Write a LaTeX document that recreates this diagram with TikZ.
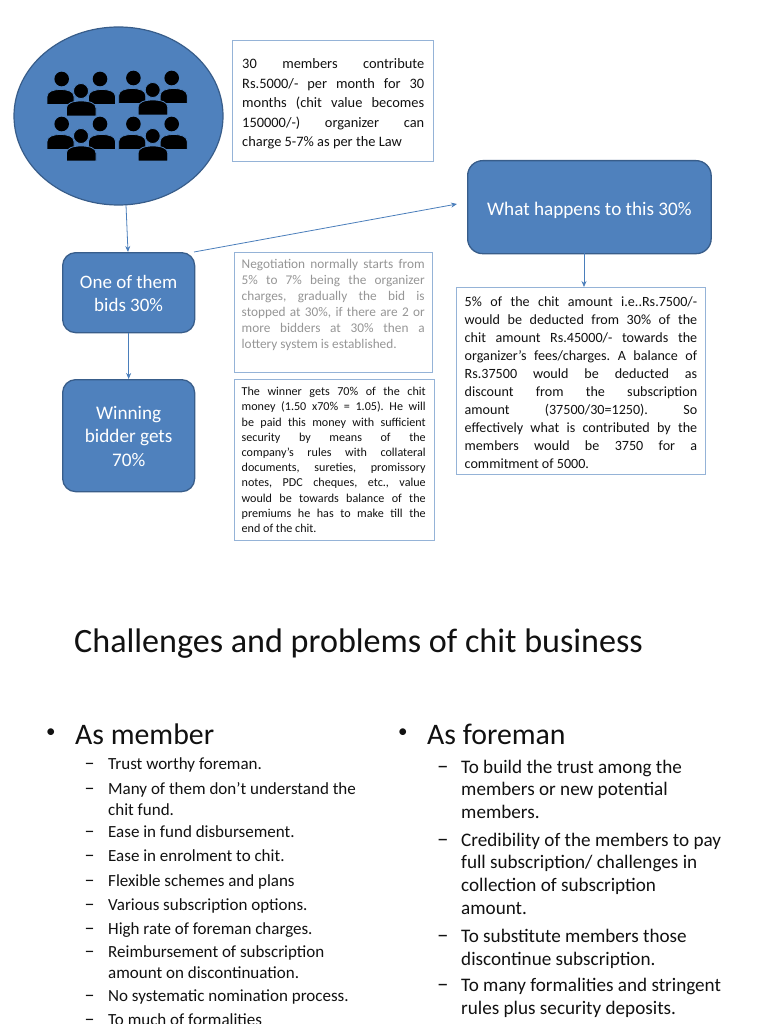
\documentclass[tikz,border=0pt]{standalone}
\usepackage{fontspec}
\setmainfont{Carlito}
\usetikzlibrary{arrows.meta,shapes.geometric}
\definecolor{bluefill}{HTML}{4F81BD}
\definecolor{blueedge}{HTML}{385D8A}
\definecolor{boxedge}{HTML}{95B3D7}
\definecolor{linkc}{HTML}{4A7EBB}
\definecolor{greytext}{HTML}{969696}
\definecolor{inktext}{HTML}{111111}
\tikzset{
  x=1pt,y=-1pt,
  blueblock/.style={draw=blueedge,line width=1.3pt,fill=bluefill,rounded corners=13pt,inner sep=0pt,anchor=north west},
  blocklabel/.style={text=white,inner sep=0pt,align=center},
  notebox/.style={draw=boxedge,line width=1pt,fill=white,inner sep=0pt,anchor=north west},
  notetext/.style={inner sep=0pt,anchor=north west,align=justify,text=inktext},
  link/.style={draw=linkc,line width=0.8pt,-{Stealth[length=6pt,width=5pt]}},
  bigitem/.style={inner sep=0pt,anchor=base west,font=\fontsize{29.8}{30}\selectfont,text=inktext},
  bigdot/.style={inner sep=0pt,anchor=base west,font=\fontsize{19}{20}\selectfont,text=inktext},
  smallitem/.style={inner sep=0pt,anchor=base west,font=\fontsize{17}{20}\selectfont,text=inktext},
  smalldash/.style={inner sep=0pt,anchor=base west,font=\fontsize{20}{20}\selectfont,text=inktext},
  largeitem/.style={inner sep=0pt,anchor=base west,font=\fontsize{19.15}{22}\selectfont,text=inktext},
  largedash/.style={inner sep=0pt,anchor=base west,font=\fontsize{23}{23}\selectfont,text=inktext},
}
\newcommand{\torso}[3]{% centre x, top y, half width
  \fill[black,draw=bluefill,line width=0.8pt] (#1-#3,#2+15) -- (#1-#3,#2+7) .. controls (#1-#3,#2+2) and (#1-#3*0.55,#2) .. (#1,#2)
    .. controls (#1+#3*0.55,#2) and (#1+#3,#2+2) .. (#1+#3,#2+7) -- (#1+#3,#2+15) -- cycle;}
\newcommand{\trio}{%
  \fill[black] (61.7,79) circle[radius=7.3pt];
  \fill[black] (100,79) circle[radius=7.3pt];
  \torso{60.5}{89.5}{13.5}
  \torso{102}{89.5}{13.5}
  \torso{81.2}{101}{14.8}
  \fill[black,draw=bluefill,line width=0.8pt] (81,91) circle[radius=7.5pt];
}
\begin{document}
\frenchspacing
\begin{tikzpicture}
\useasboundingbox (0,0) rectangle (768,1024);
\fill[white] (0,0) rectangle (768,1024);
\node[ellipse,draw=blueedge,line width=1.2pt,fill=bluefill,minimum width=209pt,minimum height=178pt,inner sep=0pt] (crowd) at (118.5,116) {};
\foreach \dx/\dy in {0/0,71.7/-1,0/45,71.7/45}{
  \begin{scope}[shift={(\dx,\dy)}]\trio\end{scope}
}
\node[notebox,minimum width=201pt,minimum height=121pt] (rulebox) at (232,40.5) {};
\node[notetext,text width=182pt,font=\fontsize{14.4}{19.5}\selectfont] (ruletext) at (242,58.5) {30 members contribute\linebreak Rs.5000/- per month for 30\linebreak months (chit value becomes\linebreak 150000/-) organizer can\linebreak charge 5-7\% as per the Law};

\node[blueblock,minimum width=132pt,minimum height=80pt] (bid) at (62,252) {};
\node[blocklabel,font=\fontsize{19}{23}\selectfont] (bidlabel) at ([yshift=-0.5pt]bid.center) {One of them\\bids 30\%};
\node[blueblock,minimum width=132pt,minimum height=112pt] (win) at (62,379) {};
\node[blocklabel,font=\fontsize{19.2}{23.5}\selectfont] (winlabel) at ([yshift=-0.5pt]win.center) {Winning\\bidder gets\\70\%};
\node[blueblock,minimum width=243.5pt,minimum height=93pt,rounded corners=15pt] (what) at (467,160) {};
\node[blocklabel,font=\fontsize{19.2}{22}\selectfont] (whatlabel) at ([yshift=-3pt]what.center) {What happens to this 30\%};

\node[notebox,minimum width=198pt,minimum height=120pt] (negbox) at (234,252) {};
\node[notetext,text=greytext,text width=183pt,font=\fontsize{13.3}{16.1}\selectfont] (negtext) at (241.5,259) {Negotiation normally starts from\linebreak 5\% to 7\% being the organizer\linebreak charges, gradually the bid is\linebreak stopped at 30\%, if there are 2 or\linebreak more bidders at 30\% then a\linebreak lottery system is established.};

\node[notebox,minimum width=200pt,minimum height=161pt] (winbox) at (234,379) {};
\node[notetext,text width=184pt,font=\fontsize{12.1}{15.2}\selectfont] (wintext) at (241.5,387) {The winner gets 70\% of the chit\linebreak money (1.50 x70\% = 1.05). He will\linebreak be paid this money with sufficient\linebreak security by means of the\linebreak company’s rules with collateral\linebreak documents, sureties, promissory\linebreak notes, PDC cheques, etc., value\linebreak would be towards balance of the\linebreak premiums he has to make till the\linebreak end of the chit.};

\node[notebox,minimum width=249pt,minimum height=187pt] (feebox) at (456,287) {};
\node[notetext,text width=232.5pt,font=\fontsize{14.1}{18}\selectfont] (feetext) at (464.5,296.5) {5\% of the chit amount i.e..Rs.7500/-\linebreak would be deducted from 30\% of the\linebreak chit amount Rs.45000/- towards the\linebreak organizer’s fees/charges. A balance of\linebreak Rs.37500 would be deducted as\linebreak discount from the subscription\linebreak amount (37500/30=1250). So\linebreak effectively what is contributed by the\linebreak members would be 3750 for a\linebreak commitment of 5000.};

\coordinate (crowdout) at (126,205);
\coordinate (bidin) at (128,252);
\coordinate (bidcorner) at (194,252);
\coordinate (whatin) at (457,204);
\coordinate (whatout) at (584,253);
\draw[link] (crowdout) -- (bidin);
\draw[link] (bid.south) -- (win.north);
\draw[link] (bidcorner) -- (whatin);
\draw[link] (whatout) -- (whatout |- feebox.north);

\node[inner sep=0pt,anchor=base west,font=\fontsize{34.1}{36}\selectfont,text=inktext] (title) at (74,652) {Challenges and problems of chit business};

\node[bigdot] (bulleta) at (46,737) {•};
\node[bigitem] (heada) at (75,744.5) {As member};
\node[bigdot] (bulletb) at (398,737) {•};
\node[bigitem] (headb) at (427,744.5) {As foreman};

\foreach \n/\yy/\tx/\hasdash in {
  a/769.5/{Trust worthy foreman.}/1,
  b/794.5/{Many of them don’t understand the}/1,
  c/815.5/{chit fund.}/0,
  d/837.5/{Ease in fund disbursement.}/1,
  e/861.5/{Ease in enrolment to chit.}/1,
  f/886.5/{Flexible schemes and plans}/1,
  g/910.5/{Various subscription options.}/1,
  h/934.5/{High rate of foreman charges.}/1,
  i/957.5/{Reimbursement of subscription}/1,
  j/978.5/{amount on discontinuation.}/0,
  k/1001.5/{No systematic nomination process.}/1,
  l/1025.5/{To much of formalities}/1}{
  \node[smallitem] (left\n) at (108,\yy) {\tx};
  \ifnum\hasdash=1 \node[smalldash] (leftd\n) at (84.5,\yy) {–}; \fi
}
\foreach \n/\yy/\tx/\hasdash in {
  a/773.5/{To build the trust among the}/1,
  b/795.5/{members or new potential}/0,
  c/818.5/{members.}/0,
  d/846.5/{Credibility of the members to pay}/1,
  e/868.5/{full subscription/ challenges in}/0,
  f/891.5/{collection of subscription}/0,
  g/914.5/{amount.}/0,
  h/942.5/{To substitute members those}/1,
  i/965.5/{discontinue subscription.}/0,
  j/991.5/{To many formalities and stringent}/1,
  k/1014.5/{rules plus security deposits.}/0}{
  \node[largeitem] (right\n) at (461,\yy) {\tx};
  \ifnum\hasdash=1 \node[largedash] (rightd\n) at (437,\yy) {–}; \fi
}
\end{tikzpicture}
\end{document}
